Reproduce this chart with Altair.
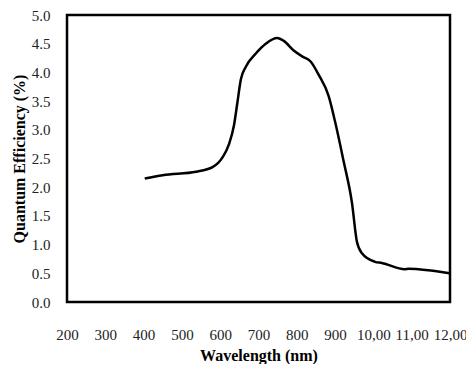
import altair as alt
import pandas as pd

wavelength = [403, 450, 537, 580, 606, 623, 636, 645, 654, 667, 693, 719, 749, 766,
              792, 814, 836, 857, 883, 900, 922, 944, 957, 970, 1004, 1022, 1082, 1091, 1199]
qe = [2.15, 2.21, 2.27, 2.35, 2.52, 2.75, 3.08, 3.48, 3.88, 4.10, 4.33, 4.50, 4.60, 4.55,
      4.38, 4.28, 4.19, 3.96, 3.59, 3.14, 2.46, 1.73, 1.05, 0.85, 0.70, 0.68, 0.57, 0.58, 0.50]

x_ticks = [200, 300, 400, 500, 600, 700, 800, 900, 1000, 1100, 1200]
x_tick_labels = ["200", "300", "400", "500", "600", "700", "800", "900", "10,00", "11,00", "12,00"]
y_ticks = [0.0, 0.5, 1.0, 1.5, 2.0, 2.5, 3.0, 3.5, 4.0, 4.5, 5.0]

df = pd.DataFrame({"wl": wavelength, "qe": qe})

label_map = ", ".join(f"'{v}': '{l}'" for v, l in zip(x_ticks, x_tick_labels))
label_expr = f"({{{label_map}}})[datum.value]"

font = "'Liberation Serif', 'Times New Roman', 'DejaVu Serif', serif"

chart = alt.Chart(df).mark_line(color="black", strokeWidth=2.5, interpolate="monotone").encode(
    x=alt.X("wl:Q",
            scale=alt.Scale(domain=[200, 1200], nice=False, zero=False),
            axis=alt.Axis(values=x_ticks, labelExpr=label_expr, title="Wavelength (nm)",
                          domain=False, ticks=False, grid=False,
                          labelFont=font, labelFontSize=15, labelColor="#222",
                          labelPadding=25, labelFlush=False,
                          titleFont=font, titleFontSize=16, titleFontWeight="bold",
                          titleColor="black", titlePadding=5)),
    y=alt.Y("qe:Q",
            scale=alt.Scale(domain=[0, 5.0], nice=False),
            axis=alt.Axis(values=y_ticks, format=".1f", title="Quantum Efficiency (%)",
                          domain=False, ticks=False, grid=False,
                          labelFont=font, labelFontSize=15, labelColor="#222",
                          labelPadding=17, labelFlush=False,
                          titleFont=font, titleFontSize=16, titleFontWeight="bold",
                          titleColor="black", titlePadding=4)),
).properties(
    width=383,
    height=287,
    autosize=alt.AutoSizeParams(type="none"),
    padding={"left": 59, "top": 7, "right": 16, "bottom": 62},
).configure(
    background="white"
).configure_view(
    stroke="black", strokeWidth=2.5
)

chart.save("out.html", embed_options={"renderer": "svg", "actions": False})
